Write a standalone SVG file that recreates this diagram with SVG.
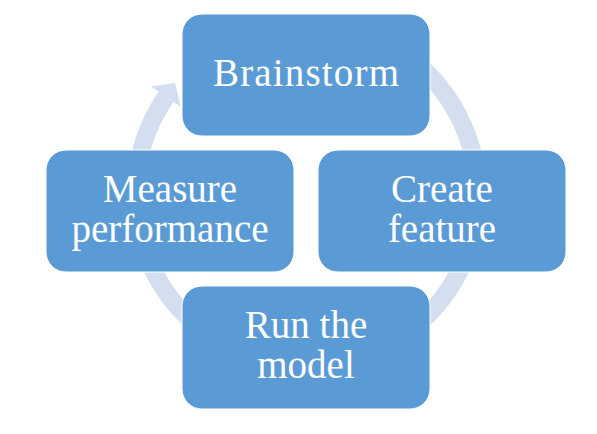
<svg xmlns="http://www.w3.org/2000/svg" width="597" height="434" viewBox="0 0 597 434">
<style>
.box{fill:#5b9bd5;stroke:#ffffff;stroke-width:1}
.lbl{font-family:"Liberation Serif","Times New Roman",serif;font-size:39px;fill:#ffffff;text-anchor:middle}
.ring{fill:none;stroke:#d3deef;stroke-width:18}
.head{fill:#d3deef}
</style>
<rect width="597" height="434" fill="#ffffff"/>
<g id="connectors">
<path class="ring" d="M248,33.7 A171,171 0 1 1 166.1,96.8"/>
<polygon class="head" points="151.3,86.5 175,83 180.9,107.1"/>
</g>
<g id="brainstorm">
<rect class="box" x="182" y="14" width="248" height="122" rx="20" ry="20"/>
<text class="lbl" x="306" y="86" textLength="186" lengthAdjust="spacing">Brainstorm</text>
</g>
<g id="create-feature">
<rect class="box" x="318" y="150" width="248" height="122" rx="20" ry="20"/>
<text class="lbl" x="442" y="202">Create</text>
<text class="lbl" x="442" y="242">feature</text>
</g>
<g id="run-the-model">
<rect class="box" x="182" y="286" width="248" height="123" rx="20" ry="20"/>
<text class="lbl" x="306" y="338">Run the</text>
<text class="lbl" x="306" y="378">model</text>
</g>
<g id="measure-performance">
<rect class="box" x="46" y="150" width="248" height="122" rx="20" ry="20"/>
<text class="lbl" x="170" y="202">Measure</text>
<text class="lbl" x="170" y="242">performance</text>
</g>
</svg>
